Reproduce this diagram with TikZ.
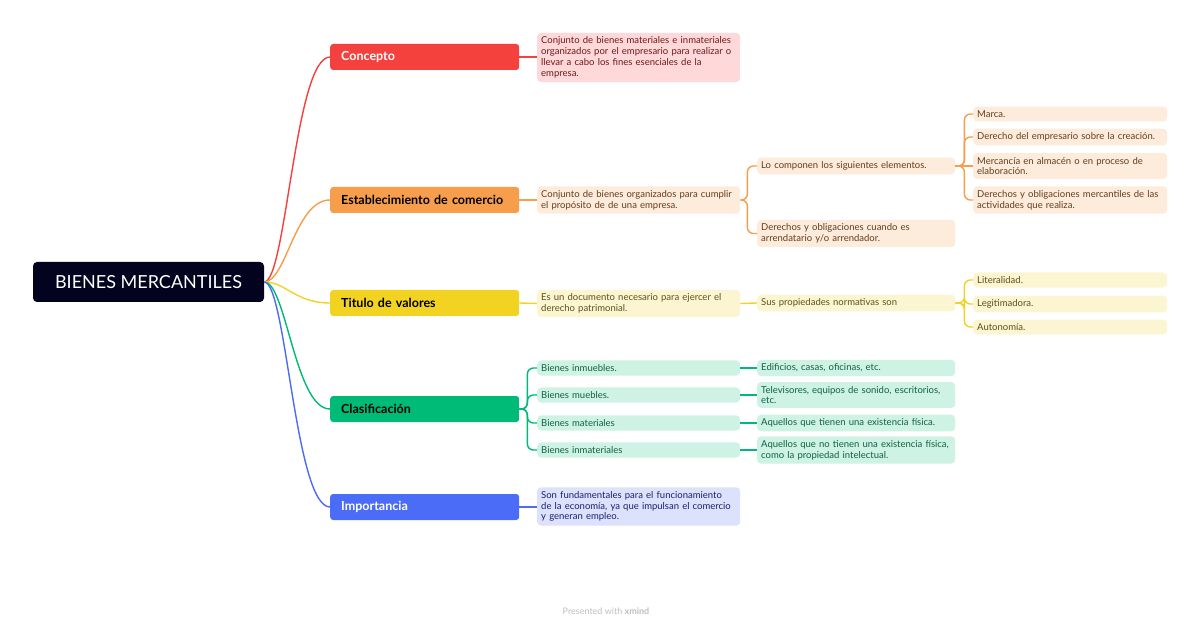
\documentclass[tikz,border=0pt]{standalone}
\usepackage{fontspec}
\setmainfont{Lato}
\definecolor{cRacine}{RGB}{3,2,31}
\definecolor{cRouge}{RGB}{245,65,61}
\definecolor{cRougeC}{RGB}{255,217,217}
\definecolor{cRougeT}{RGB}{110,25,25}
\definecolor{cOrange}{RGB}{247,158,77}
\definecolor{cOrangeC}{RGB}{253,235,220}
\definecolor{cOrangeT}{RGB}{100,62,28}
\definecolor{cJaune}{RGB}{242,211,33}
\definecolor{cJauneC}{RGB}{252,245,210}
\definecolor{cJauneT}{RGB}{92,82,22}
\definecolor{cVert}{RGB}{0,186,120}
\definecolor{cVertC}{RGB}{206,242,228}
\definecolor{cVertT}{RGB}{16,98,68}
\definecolor{cBleu}{RGB}{74,108,247}
\definecolor{cBleuC}{RGB}{220,225,252}
\definecolor{cBleuT}{RGB}{26,34,110}
\definecolor{cPied}{RGB}{190,190,190}
\tikzset{
  racine/.style={fill=cRacine, text=white, rounded corners=4pt, minimum width=231pt, minimum height=40pt, font=\fontsize{18}{21}\selectfont},
  theme/.style={anchor=west, rounded corners=3pt, minimum height=26pt, text width=167pt, inner xsep=11pt, align=left, font=\fontsize{12.5}{15}\selectfont\bfseries},
  detail/.style={anchor=west, rounded corners=4pt, text width=195pt, inner xsep=4pt, inner ysep=4pt, align=left, font=\fontsize{9.5}{10.8}\selectfont},
  niv3/.style={detail, text width=190pt},
  niv4/.style={detail, text width=186pt},
  fRouge/.style={fill=cRougeC, text=cRougeT},
  fOrange/.style={fill=cOrangeC, text=cOrangeT},
  fJaune/.style={fill=cJauneC, text=cJauneT},
  fVert/.style={fill=cVertC, text=cVertT},
  fBleu/.style={fill=cBleuC, text=cBleuT},
  courbe/.style={line width=1.4pt},
  lien/.style={line width=1.4pt, rounded corners=6pt},
}
\begin{document}
\begin{tikzpicture}[x=1pt, y=-1pt]
  \fill[white] (0,0) rectangle (1200,628);
  \useasboundingbox (0,0) rectangle (1200,628);
  %Nodo central
  \node[racine] (bm) at (148.5,282) {BIENES MERCANTILES};
  %Temas principales
  \node[theme, fill=cRouge, text=white] (con) at (330,57) {Concepto};
  \node[theme, fill=cOrange, text=black] (est) at (330,200) {Establecimiento de comercio};
  \node[theme, fill=cJaune, text=black] (tit) at (330,303) {Titulo de valores};
  \node[theme, fill=cVert, text=black] (cla) at (330,409) {Clasificación};
  \node[theme, fill=cBleu, text=white] (imp) at (330,507) {Importancia};
  %Concepto
  \node[detail, fRouge] (con1) at (537,57.5) {Conjunto de bienes materiales e inmateriales\\organizados por el empresario para realizar o\\llevar a cabo los fines esenciales de la\\empresa.};
  %Establecimiento
  \node[detail, fOrange] (est1) at (537,200) {Conjunto de bienes organizados para cumplir\\el propósito de de una empresa.};
  \node[niv3, fOrange] (est11) at (757,166) {Lo componen los siguientes elementos.};
  \node[niv3, fOrange] (est12) at (757,233.5) {Derechos y obligaciones cuando es\\arrendatario y/o arrendador.};
  \node[niv4, fOrange] (el1) at (973,114) {Marca.};
  \node[niv4, fOrange] (el2) at (973,137) {Derecho del empresario sobre la creación.};
  \node[niv4, fOrange] (el3) at (973,166) {Mercancía en almacén o en proceso de\\elaboración.};
  \node[niv4, fOrange] (el4) at (973,200) {Derechos y obligaciones mercantiles de las\\actividades que realiza.};
  %Titulo de valores
  \node[detail, fJaune] (tit1) at (537,303.5) {Es un documento necesario para ejercer el\\derecho patrimonial.};
  \node[niv3, fJaune] (tit11) at (757,303) {Sus propiedades normativas son};
  \node[niv4, fJaune] (pr1) at (973,280) {Literalidad.};
  \node[niv4, fJaune] (pr2) at (973,304) {Legitimadora.};
  \node[niv4, fJaune] (pr3) at (973,327) {Autonomía.};
  %Clasificacion
  \node[detail, fVert] (cl1) at (537,368) {Bienes inmuebles.};
  \node[detail, fVert] (cl2) at (537,395) {Bienes muebles.};
  \node[detail, fVert] (cl3) at (537,423) {Bienes materiales};
  \node[detail, fVert] (cl4) at (537,450) {Bienes inmateriales};
  \node[niv3, fVert] (ej1) at (757,368) {Edificios, casas, oficinas, etc.};
  \node[niv3, fVert] (ej2) at (757,395) {Televisores, equipos de sonido, escritorios,\\etc.};
  \node[niv3, fVert] (ej3) at (757,423) {Aquellos que tienen una existencia física.};
  \node[niv3, fVert] (ej4) at (757,450) {Aquellos que no tienen una existencia física,\\como la propiedad intelectual.};
  %Importancia
  \node[detail, fBleu] (imp1) at (537,506.5) {Son fundamentales para el funcionamiento\\de la economía, ya que impulsan el comercio\\y generan empleo.};
  %Pie
  \node[text=cPied, font=\fontsize{9}{11}\selectfont] (pie) at (606,611) {Presented with \textbf{xmind}};
  %Ramas
  \draw[courbe, cRouge] (bm.east) .. controls +(22,0) and +(-35,0) .. (con.west);
  \draw[courbe, cOrange] (bm.east) .. controls +(22,0) and +(-35,0) .. (est.west);
  \draw[courbe, cJaune] (bm.east) .. controls +(22,0) and +(-35,0) .. (tit.west);
  \draw[courbe, cVert] (bm.east) .. controls +(22,0) and +(-35,0) .. (cla.west);
  \draw[courbe, cBleu] (bm.east) .. controls +(22,0) and +(-35,0) .. (imp.west);
  \draw[lien, cRouge] (con.east) -- (con.east -| con1.west);
  \draw[lien, cOrange] (est.east) -- (est1.west);
  \draw[lien, cOrange] (est1.east) -- +(7,0) |- (est11.west);
  \draw[lien, cOrange] (est1.east) -- +(7,0) |- (est12.west);
  \draw[lien, cOrange] (est11.east) -- +(9,0) |- (el1.west);
  \draw[lien, cOrange] (est11.east) -- +(9,0) |- (el2.west);
  \draw[lien, cOrange] (est11.east) -- (el3.west);
  \draw[lien, cOrange] (est11.east) -- +(9,0) |- (el4.west);
  \draw[lien, cJaune] (tit.east) -- (tit1.west);
  \draw[lien, cJaune] (tit1.east) -- (tit11.west);
  \draw[lien, cJaune] (tit11.east) -- +(9,0) |- (pr1.west);
  \draw[lien, cJaune] (tit11.east) -- +(9,0) |- (pr2.west);
  \draw[lien, cJaune] (tit11.east) -- +(9,0) |- (pr3.west);
  \draw[lien, cVert] (cla.east) -- +(8,0) |- (cl1.west);
  \draw[lien, cVert] (cla.east) -- +(8,0) |- (cl2.west);
  \draw[lien, cVert] (cla.east) -- +(8,0) |- (cl3.west);
  \draw[lien, cVert] (cla.east) -- +(8,0) |- (cl4.west);
  \draw[lien, cVert] (cl1.east) -- (ej1.west);
  \draw[lien, cVert] (cl2.east) -- (ej2.west);
  \draw[lien, cVert] (cl3.east) -- (ej3.west);
  \draw[lien, cVert] (cl4.east) -- (ej4.west);
  \draw[lien, cBleu] (imp.east) -- (imp.east -| imp1.west);
\end{tikzpicture}
\end{document}
